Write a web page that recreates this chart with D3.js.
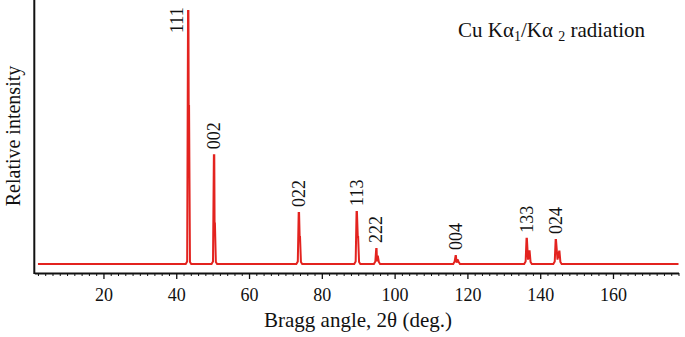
<!DOCTYPE html>
<html>
<head>
<meta charset="utf-8">
<script src="https://cdn.jsdelivr.net/npm/d3@7"></script>
<style>
  body { margin: 0; background: #fff; }
  svg text { font-family: "Liberation Serif", "Times New Roman", serif; fill: #111; }
</style>
</head>
<body>
<div id="chart"></div>
<script>
// peak data (relative intensity, 111 = 100)
var hkl      = ["111", "002", "022", "113", "222", "004", "133", "024"];
var peakPos  = [43.3, 50.4, 73.7, 89.6, 95.0, 116.8, 136.3, 144.3];   // Ka1 position, 2theta
var peakInt  = [100, 43, 20.2, 20.6, 5.9, 3.2, 10.0, 9.5];
var ka2Pos   = [43.42, 50.53, 73.91, 89.88, 95.31, 117.26, 137.0, 145.2];
var ka2Int   = [62.5, 16, 10.7, 10.7, 3.0, 1.6, 5.0, 4.9];
var scanRange = [2, 178];
var xTicksMajor = [20, 40, 60, 80, 100, 120, 140, 160];

var W = 685, H = 337;
var red = "#e3231f";

var svg = d3.select("#chart")
  .append("svg")
    .attr("width", W)
    .attr("height", H);

// scales
var x = d3.scaleLinear().domain([1, 178]).range([34.3, 678.5]);
var y = d3.scaleLinear().domain([0, 100]).range([264, 11]);
var axisY = 273;

// x axis: minor ticks every 2 deg, major every 20
var minor = d3.range(2, 179, 2).filter(function(d) { return d % 20 != 0; });
svg.append("g")
    .attr("transform", "translate(0," + axisY + ")")
    .call(d3.axisBottom(x).tickValues(minor).tickSize(3).tickFormat(""))
    .call(function(g) { g.select(".domain").remove(); })
    .selectAll("line").attr("stroke", "#111").attr("stroke-width", 1);

var xAxis = svg.append("g")
    .attr("transform", "translate(0," + axisY + ")")
    .call(d3.axisBottom(x).tickValues(xTicksMajor).tickSize(6).tickSizeOuter(0).tickPadding(9));
xAxis.select(".domain").attr("stroke", "#111").attr("stroke-width", 2);
xAxis.selectAll("line").attr("stroke", "#111").attr("stroke-width", 1.3);
xAxis.selectAll("text")
    .style("font-family", "'Liberation Serif', serif")
    .style("font-size", "18px")
    .attr("fill", "#111");

// y axis: plain line
svg.append("line")
    .attr("x1", x(1)).attr("x2", x(1))
    .attr("y1", 0).attr("y2", axisY + 1)
    .attr("stroke", "#111").attr("stroke-width", 2);

// build the diffraction profile from the peak list
var pts = [[scanRange[0], 0]];
peakPos.forEach(function(p, i) {
  var h = peakInt[i], k = ka2Pos[i], h2 = ka2Int[i];
  pts.push([p - 0.7, 0], [p - 0.3, 1.0], [p - 0.06, h], [p + 0.05, h]);
  if (k - p > 0.3) pts.push([(p + k) / 2, h2 * 0.35]);
  pts.push([k, h2], [k + 0.1, h2], [k + 0.35, 0.8], [k + 0.7, 0]);
});
pts.push([scanRange[1], 0]);

var line = d3.line()
    .x(function(d) { return x(d[0]); })
    .y(function(d) { return y(d[1]); });

svg.append("path")
    .datum(pts)
    .attr("fill", "none")
    .attr("stroke", red)
    .attr("stroke-width", 2)
    .attr("stroke-linejoin", "miter")
    .attr("d", line);

// hkl labels, rotated, above each peak (beside it when there is no room)
hkl.forEach(function(t, i) {
  var px = x(peakPos[i]), top = y(peakInt[i]);
  var lx = px, ly = top - 6;
  if (top < 60) { lx = px - 11; ly = top + 22; }
  svg.append("text")
      .attr("transform", "translate(" + (lx + 6) + "," + ly + ") rotate(-90)")
      .style("font-size", "18px")
      .text(t);
});

// axis titles
svg.append("text")
    .attr("x", 358).attr("y", 327)
    .attr("text-anchor", "middle")
    .style("font-size", "21px")
    .text("Bragg angle, 2θ (deg.)");

svg.append("text")
    .attr("transform", "translate(20,136) rotate(-90)")
    .attr("text-anchor", "middle")
    .style("font-size", "20px")
    .text("Relative intensity");

// radiation note
var note = svg.append("text")
    .attr("x", 458).attr("y", 37)
    .style("font-size", "21px");
note.append("tspan").text("Cu Kα");
note.append("tspan").attr("dy", 4).style("font-size", "14px").text("1");
note.append("tspan").attr("dy", -4).text("/Kα ");
note.append("tspan").attr("dy", 4).style("font-size", "14px").text("2");
note.append("tspan").attr("dy", -4).text(" radiation");
</script>
</body>
</html>
